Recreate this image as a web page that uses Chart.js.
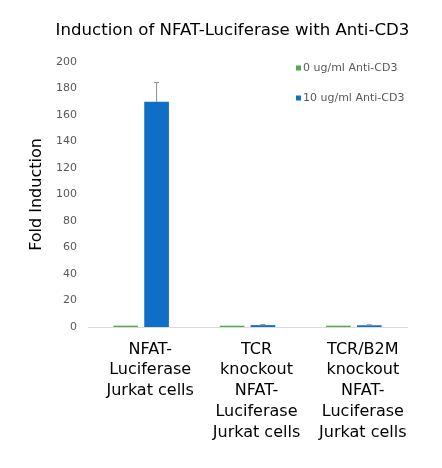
<!DOCTYPE html>
<html>
<head>
<meta charset="utf-8">
<script src="https://cdn.jsdelivr.net/npm/chart.js@4"></script>
<style>
  body { margin: 0; background: #fff; }
  #wrap { width: 442px; height: 468px; }
</style>
</head>
<body>
<div id="wrap"><canvas id="myChart"></canvas></div>
<script>
const categories = [
    ['NFAT-', 'Luciferase', 'Jurkat cells'],
    ['TCR', 'knockout', 'NFAT-', 'Luciferase', 'Jurkat cells'],
    ['TCR/B2M', 'knockout', 'NFAT-', 'Luciferase', 'Jurkat cells']
];
const seriesNames = ['0 ug/ml Anti-CD3', '10 ug/ml Anti-CD3'];
const controlValues = [1, 1, 1];
const controlErrors = [0, 0, 0];
const treatedValues = [170, 1.4, 1.3];
const treatedErrors = [14.5, 0.4, 0.4];
const yTicks = [0, 20, 40, 60, 80, 100, 120, 140, 160, 180, 200];
const chartTitle = 'Induction of NFAT-Luciferase with Anti-CD3';

const FONT = "'DejaVu Sans', sans-serif";

// plus-only error bars, Excel style
const errorBars = {
    id: 'errorBars',
    afterDatasetsDraw(chart) {
        const ctx = chart.ctx;
        const y = chart.scales.y;
        chart.data.datasets.forEach((ds, i) => {
            const meta = chart.getDatasetMeta(i);
            meta.data.forEach((bar, j) => {
                const top = y.getPixelForValue(ds.data[j] + ds.errors[j]);
                const base = y.getPixelForValue(ds.data[j]);
                if (base - top < 0.5) return;
                ctx.save();
                ctx.strokeStyle = '#8c8c8c';
                ctx.lineWidth = 1;
                ctx.beginPath();
                ctx.moveTo(bar.x, base);
                ctx.lineTo(bar.x, top);
                ctx.moveTo(bar.x - 2.5, top);
                ctx.lineTo(bar.x + 2.5, top);
                ctx.stroke();
                ctx.restore();
            });
        });
    }
};

// title centred a bit right of the canvas middle, like the original
const offsetTitle = {
    id: 'offsetTitle',
    afterDraw(chart) {
        const ctx = chart.ctx;
        ctx.save();
        ctx.font = '16.6px ' + FONT;
        ctx.fillStyle = '#000';
        ctx.textAlign = 'center';
        ctx.textBaseline = 'middle';
        ctx.fillText(chartTitle, 232.5, 31);
        ctx.restore();
    }
};

// legend drawn inside the plot, top right
const innerLegend = {
    id: 'innerLegend',
    afterDraw(chart) {
        const ctx = chart.ctx;
        const x = chart.chartArea.right - 111;
        let y = chart.chartArea.top + 6;
        ctx.save();
        ctx.font = '11px ' + FONT;
        ctx.textBaseline = 'middle';
        chart.data.datasets.forEach(ds => {
            ctx.fillStyle = ds.backgroundColor;
            ctx.fillRect(x, y - 2.5, 5, 5);
            ctx.fillStyle = '#595959';
            ctx.fillText(ds.label, x + 7, y);
            y += 30;
        });
        ctx.restore();
    }
};

new Chart(document.getElementById('myChart'), {
    type: 'bar',
    data: {
        labels: categories,
        datasets: [
            { label: seriesNames[0], data: controlValues, errors: controlErrors, backgroundColor: '#4fad4f' },
            { label: seriesNames[1], data: treatedValues, errors: treatedErrors, backgroundColor: '#0f6fc6' }
        ]
    },
    options: {
        responsive: true,
        maintainAspectRatio: false,
        animation: false,
        categoryPercentage: 0.58,
        barPercentage: 0.8,
        layout: { padding: { left: 0, right: 35, top: 62, bottom: 0 } },
        plugins: {
            legend: { display: false },
            tooltip: { enabled: false },
            title: { display: false }
        },
        scales: {
            x: {
                grid: { display: false },
                border: { display: true, color: '#d9d9d9' },
                ticks: {
                    color: '#000',
                    font: { family: FONT, size: 16, lineHeight: 1.3 },
                    padding: 4,
                    labelOffset: 9,
                    maxRotation: 0,
                    autoSkip: false
                },
                afterFit(scale) { scale.height = 141; }
            },
            y: {
                min: 0,
                max: 200,
                grid: { display: false, drawTicks: false },
                border: { display: false },
                afterBuildTicks(scale) { scale.ticks = yTicks.map(v => ({ value: v })); },
                ticks: {
                    color: '#595959',
                    font: { family: FONT, size: 11 },
                    padding: 11
                },
                title: {
                    display: true,
                    text: 'Fold Induction',
                    color: '#000',
                    font: { family: FONT, size: 16 },
                    padding: { top: 27, bottom: 0 }
                },
                afterFit(scale) { scale.width = 88; }
            }
        }
    },
    plugins: [errorBars, offsetTitle, innerLegend]
});
</script>
</body>
</html>
